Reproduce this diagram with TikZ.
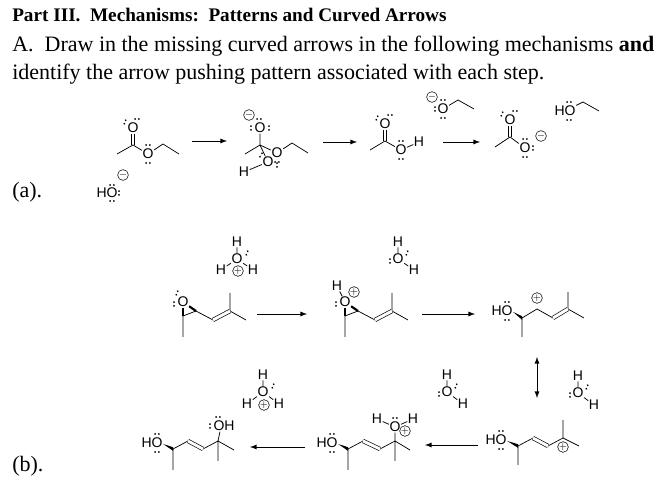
\documentclass[tikz,border=0pt]{standalone}
\usepackage{fontspec}
\setmainfont{Liberation Serif}
\newfontfamily\chemf{Liberation Sans}
\usetikzlibrary{calc}
\begin{document}
\begin{tikzpicture}[x=0.75pt,y=-0.75pt,
 atm/.style={font=\chemf\fontsize{10.5}{11}\selectfont,inner sep=0.3pt},
 chg/.style={circle,draw,inner sep=0pt,minimum size=7.5pt,font=\chemf\fontsize{7}{7}\selectfont},
 bd/.style={line width=0.55pt},
 dbd/.style={double,double distance=2.2pt,line width=0.5pt},
 rx/.style={-latex,line width=0.7pt},
 tx/.style={anchor=base west,inner sep=0pt,font=\fontsize{16.5}{18}\selectfont}]
\newcommand\lpr[3]{\fill[shift={(#1,#2)},rotate=#3] (-1.9,0) circle(1) (1.9,0) circle(1);}
\useasboundingbox (0,0) rectangle (658,488);
% header
\node[tx,font=\bfseries\fontsize{14.4}{16}\selectfont] (t1) at (12,22) {Part III.\ \ Mechanisms:\ \ Patterns and Curved Arrows};
\node[tx] (t2) at (12,52) {A.\ \ Draw in the missing curved arrows in the following mechanisms \textbf{and}};
\node[tx] (t3) at (12,80) {identify the arrow pushing pattern associated with each step.};
\node[tx] (la) at (12,198) {(a).};
\node[tx] (lb) at (12,472) {(b).};
% ---------- (a) molecule 1
\node[atm] (a1o) at (133,128) {O};
\coordinate (a1c) at (133,145);
\coordinate (a1m) at (117,154);
\node[atm] (a1oe) at (148,154) {O};
\coordinate (a1c2) at (163,144);
\coordinate (a1c3) at (179,154);
\draw[dbd] (a1o) -- (a1c);
\draw[bd] (a1m) -- (a1c) -- (a1oe) -- (a1c2) -- (a1c3);
\lpr{125}{122}{70}\lpr{137}{119}{0}\lpr{148}{145}{0}\lpr{148}{163}{0}
\node[atm] (ho) at (107,193) {HO};
\lpr{112}{185}{0}\lpr{119}{193}{90}\lpr{112}{201}{0}
\node[chg] (m1) at (123,175) {$-$};
\draw[rx] (192,141) -- (227,141);
% ---------- (a) molecule 2
\coordinate (b2c) at (260,145);
\node[atm] (b2o) at (260,128) {O};
\node[chg] (m2) at (249,115) {$-$};
\lpr{259}{119}{0}\lpr{251}{128}{90}\lpr{269}{128}{90}
\coordinate (b2m) at (245,154);
\node[atm] (b2oh) at (268,162) {O};
\node[atm] (b2h) at (244,172) {H};
\lpr{261}{155}{60}\lpr{277}{165}{90}
\node[atm] (b2oe) at (277,153) {O};
\lpr{277}{162}{0}
\coordinate (b2c2) at (292,143);
\coordinate (b2c3) at (308,153);
\draw[bd] (b2o) -- (b2c) -- (b2m) (b2c) -- (b2oh) -- (b2h) (b2c) -- (b2oe) -- (b2c2) -- (b2c3);
\draw[rx] (323,142) -- (357,142);
% ---------- (a) molecule 3
\node[atm] (c3o) at (385,124) {O};
\coordinate (c3c) at (385,141);
\coordinate (c3m) at (370,150);
\node[atm] (c3oh) at (401,150) {O};
\node[atm] (c3h) at (419,142) {H};
\draw[dbd] (c3o) -- (c3c);
\draw[bd] (c3m) -- (c3c) -- (c3oh) -- (c3h);
\lpr{377}{118}{70}\lpr{390}{115}{0}\lpr{401}{141}{0}\lpr{401}{159}{0}
% ethoxide
\node[atm] (eo) at (443,109) {O};
\node[chg] (m3) at (432,97) {$-$};
\lpr{435}{109}{90}\lpr{443}{100}{0}\lpr{443}{118}{0}
\coordinate (ec2) at (458,100);
\coordinate (ec3) at (474,109);
\draw[bd] (eo) -- (ec2) -- (ec3);
\draw[rx] (443,142) -- (480,142);
% ---------- (a) molecule 4
\node[atm] (d4o) at (510,120) {O};
\coordinate (d4c) at (510,137);
\coordinate (d4m) at (495,147);
\node[atm] (d4om) at (525,148) {O};
\node[chg] (m4) at (541,136) {$-$};
\draw[dbd] (d4o) -- (d4c);
\draw[bd] (d4m) -- (d4c) -- (d4om);
\lpr{502}{114}{70}\lpr{515}{111}{0}\lpr{525}{139}{0}\lpr{525}{157}{0}\lpr{533}{148}{90}
\node[atm] (eoh) at (565,111) {HO};
\coordinate (eh2) at (583,102);
\coordinate (eh3) at (599,111);
\draw[bd] (eoh) -- (eh2) -- (eh3);
\lpr{569}{102}{0}\lpr{569}{120}{0}
% ---------- (b) row 1
\node[atm] (w1o) at (237,259) {O};
\node[atm] (w1h1) at (237,242) {H};
\node[atm] (w1h2) at (221,270) {H};
\node[atm] (w1h3) at (253,270) {H};
\node[chg] (p1) at (238,271) {$+$};
\draw[bd] (w1o) -- (w1h1) (w1o) -- (w1h2) (w1o) -- (w1h3);
\lpr{247}{253}{70}
% epoxide 1
\node[atm] (e1o) at (183,302) {O};
\coordinate (e1a) at (183,316);
\coordinate (e1b) at (196,311);
\coordinate (e1m) at (183,337);
\coordinate (e1c) at (213,320);
\coordinate (e1d) at (230,311);
\coordinate (e1u) at (230,293);
\coordinate (e1r) at (246,320);
\draw[line width=1.6pt] (e1o) -- (e1b);
\draw[line width=1.2pt] (e1o) -- (e1a);
\draw[bd] (e1a) -- (e1b) -- (e1c) (e1a) -- (e1m) (e1d) -- (e1u) (e1d) -- (e1r);
\draw[dbd] (e1c) -- (e1d);
\lpr{177}{293}{70}\lpr{174}{304}{90}
\draw[rx] (257,314) -- (307,314);
% water
\node[atm] (w2o) at (398,259) {O};
\node[atm] (w2h1) at (398,242) {H};
\node[atm] (w2h2) at (414,270) {H};
\draw[bd] (w2o) -- (w2h1) (w2o) -- (w2h2);
\lpr{390}{261}{90}\lpr{407}{253}{70}
% epoxide 2
\node[atm] (e2o) at (345,302) {O};
\node[atm] (e2h) at (337,286) {H};
\node[chg] (p2) at (354,292) {$+$};
\coordinate (e2a) at (345,316);
\coordinate (e2b) at (358,311);
\coordinate (e2m) at (345,337);
\coordinate (e2c) at (375,320);
\coordinate (e2d) at (392,311);
\coordinate (e2u) at (392,293);
\coordinate (e2r) at (408,320);
\draw[bd] (e2o) -- (e2h);
\draw[line width=1.6pt] (e2o) -- (e2b);
\draw[line width=1.2pt] (e2o) -- (e2a);
\draw[bd] (e2a) -- (e2b) -- (e2c) (e2a) -- (e2m) (e2d) -- (e2u) (e2d) -- (e2r);
\draw[dbd] (e2c) -- (e2d);
\lpr{336}{304}{90}
\draw[rx] (422,314) -- (475,314);
% cation 1
\node[atm] (k1o) at (502,311) {HO};
\coordinate (k1a) at (522,318);
\coordinate (k1m) at (522,337);
\coordinate (k1b) at (537,309);
\node[chg] (p3) at (537,298) {$+$};
\coordinate (k1c) at (553,318);
\coordinate (k1d) at (568,309);
\coordinate (k1u) at (568,292);
\coordinate (k1r) at (584,318);
\fill ($(k1o.east)+(0,1)$) -- ($(k1a)+(0,-1.8)$) -- ($(k1a)+(0,1.8)$) -- cycle;
\draw[bd] (k1a) -- (k1m) (k1a) -- (k1b) -- (k1c) (k1d) -- (k1u) (k1d) -- (k1r);
\draw[dbd] (k1c) -- (k1d);
\lpr{507}{302}{0}\lpr{507}{320}{0}
\draw[latex-latex,line width=0.7pt] (537,357) -- (537,398);
% ---------- (b) row 2
\node[atm] (w3o) at (578,393) {O};
\node[atm] (w3h1) at (578,376) {H};
\node[atm] (w3h2) at (594,405) {H};
\draw[bd] (w3o) -- (w3h1) (w3o) -- (w3h2);
\lpr{570}{395}{90}\lpr{587}{387}{70}
% cation 2
\node[atm] (k2o) at (496,440) {HO};
\coordinate (k2a) at (518,446);
\coordinate (k2m) at (518,465);
\coordinate (k2b) at (533,438);
\coordinate (k2c) at (548,446);
\coordinate (k2d) at (563,438);
\coordinate (k2u) at (563,420);
\coordinate (k2r) at (579,446);
\node[chg] (p4) at (563,447) {$+$};
\fill ($(k2o.east)+(0,1)$) -- ($(k2a)+(0,-1.8)$) -- ($(k2a)+(0,1.8)$) -- cycle;
\draw[bd] (k2a) -- (k2m) (k2a) -- (k2b) (k2c) -- (k2d) -- (k2u) (k2d) -- (k2r);
\draw[dbd] (k2b) -- (k2c);
\lpr{501}{431}{0}\lpr{501}{449}{0}
\draw[rx] (478,445) -- (425,445);
\node[atm] (w4o) at (447,392) {O};
\node[atm] (w4h1) at (447,375) {H};
\node[atm] (w4h2) at (463,404) {H};
\draw[bd] (w4o) -- (w4h1) (w4o) -- (w4h2);
\lpr{439}{394}{90}\lpr{456}{386}{70}
% middle molecule
\node[atm] (m5o) at (327,443) {HO};
\coordinate (m5a) at (348,449);
\coordinate (m5m) at (348,470);
\coordinate (m5b) at (363,441);
\coordinate (m5c) at (380,449);
\coordinate (m5d) at (395,441);
\node[atm] (m5ox) at (395,427) {O};
\node[atm] (m5h1) at (377,419) {H};
\node[atm] (m5h2) at (413,419) {H};
\node[chg] (p5) at (405,431) {$+$};
\coordinate (m5dn) at (395,461);
\coordinate (m5r) at (410,450);
\fill ($(m5o.east)+(0,1)$) -- ($(m5a)+(0,-1.8)$) -- ($(m5a)+(0,1.8)$) -- cycle;
\draw[bd] (m5a) -- (m5m) (m5a) -- (m5b) (m5c) -- (m5d) -- (m5dn) (m5d) -- (m5r) (m5d) -- (m5ox) (m5ox) -- (m5h1) (m5ox) -- (m5h2);
\draw[dbd] (m5b) -- (m5c);
\lpr{332}{434}{0}\lpr{332}{452}{0}\lpr{395}{418}{0}
\draw[rx] (305,447) -- (250,447);
\node[atm] (w5o) at (263,392) {O};
\node[atm] (w5h1) at (263,375) {H};
\node[atm] (w5h2) at (247,404) {H};
\node[atm] (w5h3) at (279,404) {H};
\node[chg] (p6) at (264,405) {$+$};
\draw[bd] (w5o) -- (w5h1) (w5o) -- (w5h2) (w5o) -- (w5h3);
\lpr{273}{386}{70}
% left molecule
\node[atm] (l6o) at (152,443) {HO};
\coordinate (l6a) at (173,449);
\coordinate (l6m) at (173,470);
\coordinate (l6b) at (188,441);
\coordinate (l6c) at (203,449);
\coordinate (l6d) at (218,441);
\node[atm] (l6oh) at (224,426) {OH};
\coordinate (l6dn) at (218,461);
\coordinate (l6r) at (234,450);
\fill ($(l6o.east)+(0,1)$) -- ($(l6a)+(0,-1.8)$) -- ($(l6a)+(0,1.8)$) -- cycle;
\draw[bd] (l6a) -- (l6m) (l6a) -- (l6b) (l6c) -- (l6d) -- (l6dn) (l6d) -- (l6r) (l6d) -- ([xshift=-3pt]l6oh.south);
\draw[dbd] (l6b) -- (l6c);
\lpr{157}{434}{0}\lpr{157}{452}{0}\lpr{218}{417}{0}\lpr{210}{426}{90}
\end{tikzpicture}
\end{document}
